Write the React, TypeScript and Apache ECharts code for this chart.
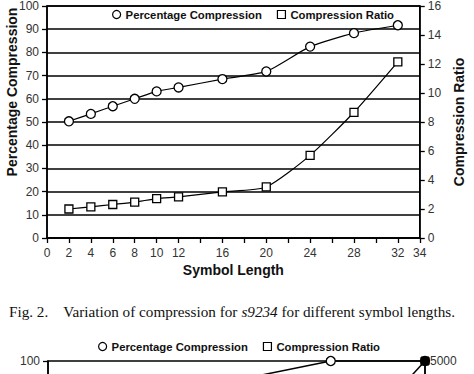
import React, { useEffect, useRef } from "react";
import * as echarts from "echarts";

// Main chart (Fig. 2) data
const symbolLengths = [2, 4, 6, 8, 10, 12, 16, 20, 24, 28, 32];
const percentageCompression = [50.3, 53.5, 56.8, 60, 63.2, 64.9, 68.5, 71.8, 82.5, 88.3, 91.7];
const compressionRatio = [2.0, 2.15, 2.31, 2.47, 2.72, 2.84, 3.18, 3.52, 5.7, 8.67, 12.15];
const xTickLabels = [0, 2, 4, 6, 8, 10, 12, 16, 20, 24, 28, 32, 34];

// Partially visible next figure (only its top is in view)
const nextPctX = [16, 24, 32];
const nextPct = [91.8, 100, 100];
const nextRatioX = [28, 32];
const nextRatio = [3900, 5000];

const SANS = "Liberation Sans, Arial, sans-serif";
const SERIF = "Liberation Serif, Times New Roman, serif";

export default function App() {
  const ref = useRef<HTMLDivElement>(null);
  useEffect(() => {
    document.body.style.margin = "0";
    document.body.style.background = "#fff";
    const chart = echarts.init(ref.current!, null, { renderer: "svg" });
    const labelStyle = { color: "#333", fontFamily: SANS, fontSize: 12 };
    const axisLine = { show: true, lineStyle: { color: "#000", width: 1.5 } };
    const tick = { show: true, length: 5, inside: false, lineStyle: { color: "#000", width: 1.3 } };
    const markerStyle = { color: "#fff", borderColor: "#000", borderWidth: 1.3 };
    const legendData = [
      { name: "Percentage Compression", icon: "circle" },
      { name: "Compression Ratio", icon: "rect" },
    ];
    const legendCommon = {
      data: legendData,
      itemWidth: 8,
      itemHeight: 8,
      itemGap: 15,
      itemStyle: { color: "#fff", borderColor: "#000", borderWidth: 1.2 },
      textStyle: { color: "#111", fontFamily: SANS, fontSize: 11.3, fontWeight: "bold" },
    };
    chart.setOption({
      animation: false,
      backgroundColor: "#fff",
      legend: [
        { ...legendCommon, left: 107, top: 4 },
        { ...legendCommon, left: 93, top: 336 },
      ],
      grid: [
        { left: 47, right: 37, top: 5, height: 233, show: true, borderColor: "#000", borderWidth: 1.5 },
        { left: 48, right: 49, top: 361, height: 233, show: true, borderColor: "#000", borderWidth: 1.5 },
      ],
      xAxis: [
        {
          type: "value",
          gridIndex: 0,
          min: 0,
          max: 34,
          interval: 2,
          name: "Symbol Length",
          nameLocation: "middle",
          nameGap: 25,
          nameTextStyle: { color: "#111", fontFamily: SANS, fontSize: 14, fontWeight: "bold" },
          axisLine,
          axisTick: tick,
          splitLine: { show: false },
          axisLabel: {
            ...labelStyle,
            margin: 9,
            formatter: (v: number) => (xTickLabels.includes(v) ? String(v) : ""),
          },
        },
        {
          type: "value",
          gridIndex: 1,
          min: 0,
          max: 32,
          axisLine,
          axisTick: { show: false },
          axisLabel: { show: false },
          splitLine: { show: false },
        },
      ],
      yAxis: [
        {
          type: "value",
          gridIndex: 0,
          min: 0,
          max: 100,
          interval: 10,
          axisLine,
          axisTick: tick,
          axisLabel: { ...labelStyle, margin: 8 },
          splitLine: { show: true, lineStyle: { color: "#000", width: 1.5 } },
        },
        {
          type: "value",
          gridIndex: 0,
          position: "right",
          min: 0,
          max: 16,
          interval: 2,
          name: "Compression Ratio",
          nameLocation: "middle",
          nameRotate: 90,
          nameGap: 19,
          nameTextStyle: { color: "#111", fontFamily: SANS, fontSize: 14, fontWeight: "bold" },
          axisLine,
          axisTick: tick,
          axisLabel: { ...labelStyle, margin: 8 },
          splitLine: { show: false },
        },
        {
          type: "value",
          gridIndex: 1,
          min: 0,
          max: 100,
          interval: 100,
          axisLine,
          axisTick: tick,
          axisLabel: { ...labelStyle, margin: 8, showMinLabel: false, formatter: (v: number) => String(v) },
          splitLine: { show: false },
        },
        {
          type: "value",
          gridIndex: 1,
          position: "right",
          min: 0,
          max: 5000,
          interval: 5000,
          axisLine,
          axisTick: { show: false },
          axisLabel: { ...labelStyle, margin: 5, showMinLabel: false, formatter: (v: number) => String(v) },
          splitLine: { show: false },
        },
      ],
      graphic: [
        {
          type: "text",
          x: 12,
          y: 92,
          rotation: Math.PI / 2,
          style: {
            text: "Percentage Compression",
            fill: "#111",
            font: `bold 14px ${SANS}`,
            align: "center",
            verticalAlign: "middle",
          },
        },
        {
          type: "text",
          x: 9,
          y: 311,
          style: {
            text: "{n|Fig. 2.    Variation of compression for }{i|s9234}{n| for different symbol lengths.}",
            fill: "#111",
            verticalAlign: "middle",
            rich: {
              n: { fontFamily: SERIF, fontSize: 15.2, fill: "#111" },
              i: { fontFamily: SERIF, fontSize: 15.2, fontStyle: "italic", fill: "#111" },
            },
          },
        },
      ],
      series: [
        {
          name: "Percentage Compression",
          type: "line",
          xAxisIndex: 0,
          yAxisIndex: 0,
          smooth: 0.2,
          symbol: "circle",
          symbolSize: 9,
          showAllSymbol: true,
          lineStyle: { color: "#000", width: 1.2 },
          itemStyle: markerStyle,
          data: symbolLengths.map((x, i) => [x, percentageCompression[i]]),
          z: 3,
        },
        {
          name: "Compression Ratio",
          type: "line",
          xAxisIndex: 0,
          yAxisIndex: 1,
          smooth: 0.2,
          symbol: "rect",
          symbolSize: 8,
          showAllSymbol: true,
          lineStyle: { color: "#000", width: 1.2 },
          itemStyle: markerStyle,
          data: symbolLengths.map((x, i) => [x, compressionRatio[i]]),
          z: 3,
        },
        {
          name: "Percentage Compression",
          type: "line",
          xAxisIndex: 1,
          yAxisIndex: 2,
          symbol: "circle",
          symbolSize: 9,
          clip: false,
          lineStyle: { color: "#000", width: 1.5 },
          itemStyle: markerStyle,
          data: nextPctX.map((x, i) =>
            i === nextPctX.length - 1
              ? { value: [x, nextPct[i]], itemStyle: { color: "#000", borderColor: "#000" } }
              : [x, nextPct[i]]
          ),
          z: 3,
        },
        {
          name: "Compression Ratio",
          type: "line",
          xAxisIndex: 1,
          yAxisIndex: 3,
          symbol: "rect",
          symbolSize: 8,
          clip: false,
          lineStyle: { color: "#000", width: 1.5 },
          itemStyle: { color: "#000", borderColor: "#000" },
          data: nextRatioX.map((x, i) => [x, nextRatio[i]]),
          z: 2,
        },
      ],
    });
    return () => chart.dispose();
  }, []);
  return (
    <div style={{ width: 474, height: 374, overflow: "hidden", position: "relative" }}>
      <div ref={ref} style={{ width: 474, height: 600 }} />
    </div>
  );
}
